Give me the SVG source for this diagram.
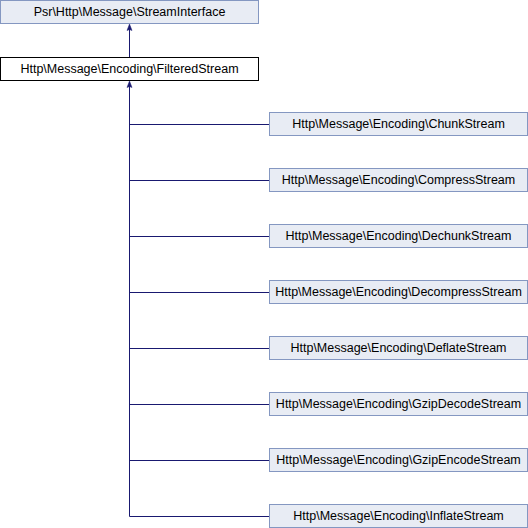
<svg xmlns="http://www.w3.org/2000/svg" width="528" height="528" viewBox="0 0 528 528">
<style>
.bg{fill:#ffffff}
.base{fill:#E8ECF4;stroke:#8497C1;stroke-width:1}
.cur{fill:#ffffff;stroke:#000000;stroke-width:1}
.kid{fill:#E8ECF4;stroke:#8497C1;stroke-width:1}
text{font-family:"Liberation Sans",Arial,sans-serif;font-size:12.5px;fill:#000000;text-anchor:middle}
.ln{stroke:#191970;stroke-width:1;fill:none}
.ah{fill:#191970;stroke:#191970;stroke-width:0.5}
</style>
<defs>
<path id="arrow" class="ah" d="M0,0 L2.5,6.5 L0,5.5 L-2.5,6.5 Z"/>
</defs>
<rect class="bg" x="0" y="0" width="528" height="528"/>
<g id="connectors">
<path class="ln" d="M129.5,57 V26"/>
<use href="#arrow" x="129.5" y="24"/>
<path class="ln" d="M129.5,516.5 V83"/>
<use href="#arrow" x="129.5" y="81"/>
<path class="ln" d="M129.5,124.5 H269"/>
<path class="ln" d="M129.5,180.5 H269"/>
<path class="ln" d="M129.5,236.5 H269"/>
<path class="ln" d="M129.5,292.5 H269"/>
<path class="ln" d="M129.5,348.5 H269"/>
<path class="ln" d="M129.5,404.5 H269"/>
<path class="ln" d="M129.5,460.5 H269"/>
<path class="ln" d="M129.5,516.5 H269"/>
</g>
<g id="StreamInterface">
<rect class="base" x="0.5" y="0.5" width="258" height="23"/>
<text x="129.5" y="15.5">Psr\Http\Message\StreamInterface</text>
</g>
<g id="FilteredStream">
<rect class="cur" x="0.5" y="57.5" width="258" height="23"/>
<text x="129.5" y="72.5">Http\Message\Encoding\FilteredStream</text>
</g>
<g id="ChunkStream">
<rect class="kid" x="269.5" y="112.5" width="258" height="23"/>
<text x="398.5" y="127.5">Http\Message\Encoding\ChunkStream</text>
</g>
<g id="CompressStream">
<rect class="kid" x="269.5" y="168.5" width="258" height="23"/>
<text x="398.5" y="183.5">Http\Message\Encoding\CompressStream</text>
</g>
<g id="DechunkStream">
<rect class="kid" x="269.5" y="224.5" width="258" height="23"/>
<text x="398.5" y="239.5">Http\Message\Encoding\DechunkStream</text>
</g>
<g id="DecompressStream">
<rect class="kid" x="269.5" y="280.5" width="258" height="23"/>
<text x="398.5" y="295.5">Http\Message\Encoding\DecompressStream</text>
</g>
<g id="DeflateStream">
<rect class="kid" x="269.5" y="336.5" width="258" height="23"/>
<text x="398.5" y="351.5">Http\Message\Encoding\DeflateStream</text>
</g>
<g id="GzipDecodeStream">
<rect class="kid" x="269.5" y="392.5" width="258" height="23"/>
<text x="398.5" y="407.5">Http\Message\Encoding\GzipDecodeStream</text>
</g>
<g id="GzipEncodeStream">
<rect class="kid" x="269.5" y="448.5" width="258" height="23"/>
<text x="398.5" y="463.5">Http\Message\Encoding\GzipEncodeStream</text>
</g>
<g id="InflateStream">
<rect class="kid" x="269.5" y="504.5" width="258" height="23"/>
<text x="398.5" y="519.5">Http\Message\Encoding\InflateStream</text>
</g>
</svg>
